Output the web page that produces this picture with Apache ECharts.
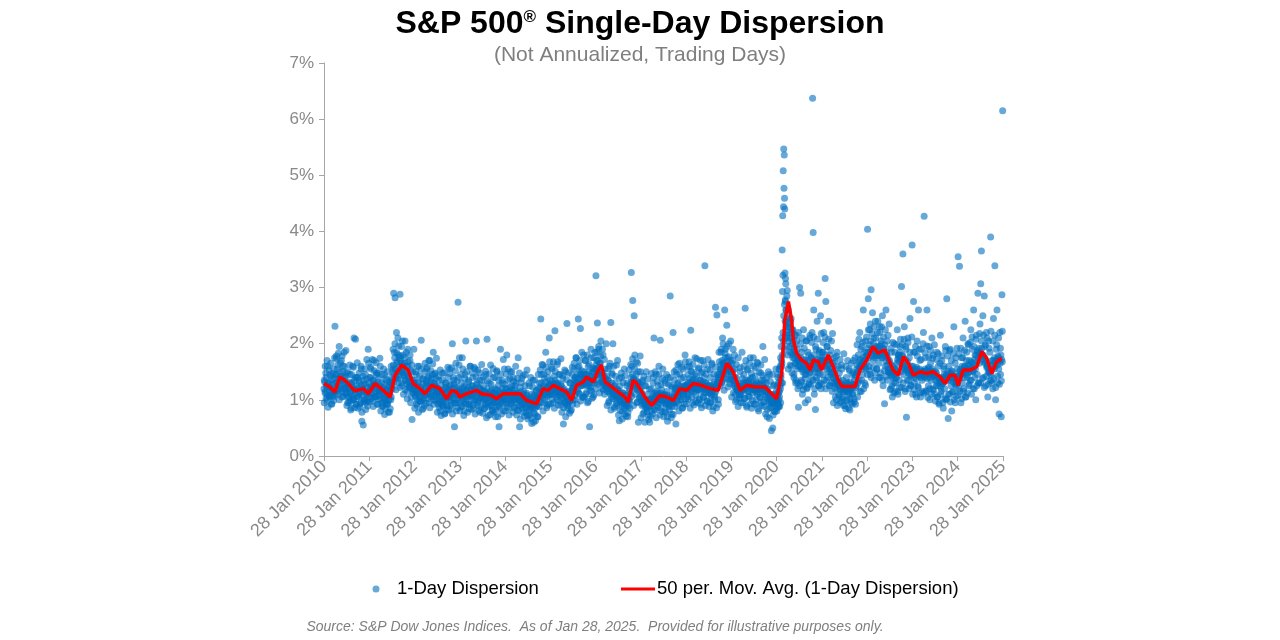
<!DOCTYPE html>
<html>
<head>
<meta charset="utf-8">
<script src="https://cdn.jsdelivr.net/npm/echarts@6/dist/echarts.min.js"></script>
<style>
  html, body { margin: 0; padding: 0; background: #fff; }
  #chart { width: 1280px; height: 640px; }
</style>
</head>
<body>
<div id="chart"></div>
<script>
const d2010 = [
  [1.35, 1.12, 1.48, 1.25, 0.98, 1.60, 1.30, 1.05, 1.22, 1.42, 0.92, 1.18, 1.08, 1.55, 1.15, 2.31],
  [1.45, 1.78, 1.32, 1.62, 1.10, 1.95, 1.40, 1.25, 1.70, 1.05, 1.50, 1.35, 1.85, 1.20, 1.42, 1.15],
  [1.30, 0.95, 1.22, 1.05, 1.45, 1.12, 0.85, 1.30, 1.60, 1.02, 2.10, 1.18, 2.08, 0.92, 1.25, 1.40],
  [1.08, 1.35, 0.88, 1.15, 1.55, 0.62, 1.20, 0.55, 1.28, 1.00, 1.45, 0.95, 1.72, 1.10, 1.90, 1.05]
]
const d2011 = [
  [1.40, 1.18, 1.55, 1.25, 0.98, 1.35, 1.70, 1.12, 1.28, 1.05, 1.48, 1.20, 0.92, 1.38, 1.15, 1.60],
  [1.10, 1.30, 0.90, 1.22, 1.02, 1.45, 0.85, 1.15, 1.35, 0.95, 1.08, 1.25, 0.78, 1.18, 1.00, 1.40],
  [1.20, 1.55, 2.90, 1.85, 2.82, 1.40, 2.20, 1.65, 2.10, 1.30, 1.75, 2.88, 1.50, 1.95, 1.25, 1.62],
  [1.80, 1.45, 2.05, 1.35, 1.60, 1.15, 1.90, 1.40, 1.25, 1.70, 0.95, 1.30, 0.65, 1.50, 1.18, 1.35]
]
const d2012 = [
  [1.25, 1.05, 1.45, 0.90, 1.32, 1.10, 1.60, 0.98, 1.20, 2.06, 1.02, 1.38, 0.85, 1.15, 1.50, 1.08],
  [1.30, 1.55, 1.12, 1.42, 0.95, 1.70, 1.25, 1.05, 1.38, 1.18, 1.85, 1.00, 1.28, 1.48, 1.10, 1.22],
  [1.15, 0.92, 1.35, 1.05, 0.80, 1.25, 0.98, 1.48, 0.88, 1.12, 0.75, 1.30, 1.02, 1.20, 0.90, 1.40],
  [1.18, 1.55, 1.00, 1.28, 0.85, 2.00, 1.10, 1.35, 0.52, 1.22, 1.65, 0.95, 1.08, 2.74, 1.40, 1.75]
]
const d2013 = [
  [1.10, 0.88, 1.30, 1.75, 1.00, 1.22, 0.80, 1.45, 2.05, 1.05, 1.15, 0.92, 1.35, 1.08, 1.60, 0.95],
  [1.25, 1.05, 1.40, 0.85, 1.18, 1.55, 1.00, 2.05, 1.30, 0.90, 1.12, 1.48, 0.78, 1.20, 1.05, 1.35],
  [1.02, 1.25, 0.85, 1.15, 1.45, 0.95, 2.08, 1.10, 0.72, 1.30, 1.05, 1.62, 0.90, 1.18, 0.82, 1.40],
  [0.95, 1.20, 0.70, 1.08, 1.50, 0.88, 1.25, 0.52, 1.12, 1.90, 0.98, 1.35, 1.05, 1.72, 0.92, 1.28]
]
const d2014 = [
  [1.20, 0.95, 1.80, 1.08, 1.35, 0.85, 1.15, 1.50, 0.98, 1.25, 1.05, 1.40, 0.88, 1.18, 1.02, 1.30],
  [1.12, 0.82, 1.75, 1.00, 0.52, 1.22, 0.90, 1.38, 1.05, 0.78, 1.15, 0.95, 1.45, 0.85, 1.08, 0.72],
  [1.00, 0.80, 1.25, 0.92, 0.68, 1.10, 0.85, 1.35, 0.60, 0.98, 0.75, 1.15, 0.88, 1.05, 0.70, 1.20],
  [1.30, 1.05, 2.44, 1.45, 1.15, 1.62, 0.95, 1.38, 1.10, 1.85, 1.22, 0.90, 1.50, 1.08, 2.10, 1.28]
]
const d2015 = [
  [1.35, 1.10, 1.55, 1.22, 0.95, 1.42, 2.23, 1.15, 1.30, 1.00, 1.68, 1.20, 1.08, 1.45, 0.90, 1.25],
  [1.12, 1.38, 0.57, 1.20, 0.95, 1.50, 1.05, 2.36, 0.85, 1.15, 0.98, 1.30, 0.80, 1.08, 1.45, 0.92],
  [1.20, 1.55, 1.00, 1.40, 1.75, 1.15, 1.30, 2.44, 1.60, 1.10, 2.27, 1.45, 1.85, 1.25, 1.05, 1.50],
  [1.35, 1.70, 1.10, 1.45, 0.95, 1.60, 1.25, 0.52, 1.38, 1.90, 1.15, 1.50, 1.05, 1.75, 1.30, 1.55]
]
const d2016 = [
  [3.21, 1.70, 2.37, 1.45, 1.90, 1.30, 1.65, 2.05, 1.50, 1.20, 1.80, 1.38, 1.10, 1.55, 1.25, 1.42],
  [1.15, 1.35, 0.95, 1.60, 1.20, 2.38, 1.05, 1.45, 2.00, 1.10, 0.85, 1.30, 1.00, 1.62, 0.90, 1.18],
  [1.05, 0.63, 1.25, 0.92, 1.40, 0.80, 1.12, 0.98, 1.55, 0.75, 1.08, 0.88, 1.30, 0.70, 1.00, 1.20],
  [0.85, 1.10, 3.27, 1.60, 2.77, 1.35, 2.50, 1.80, 1.20, 1.45, 0.95, 1.65, 0.60, 1.30, 1.05, 1.50]
]
const d2017 = [
  [1.15, 0.90, 1.35, 1.02, 0.78, 1.25, 0.95, 1.50, 0.85, 1.10, 0.72, 1.00, 0.60, 0.88, 1.20, 0.80],
  [0.95, 1.30, 2.10, 1.05, 0.82, 1.45, 1.12, 0.90, 1.25, 1.60, 1.00, 2.06, 0.85, 1.18, 1.38, 0.98],
  [1.08, 0.80, 1.30, 0.92, 1.15, 0.70, 1.40, 0.88, 1.02, 2.85, 1.25, 0.75, 1.10, 2.20, 0.95, 1.35],
  [1.20, 0.57, 1.45, 1.05, 1.30, 0.92, 1.65, 1.15, 1.00, 1.38, 0.85, 1.55, 1.10, 1.25, 1.80, 1.02]
]
const d2018 = [
  [1.25, 1.05, 1.45, 1.10, 1.60, 1.30, 2.24, 1.15, 1.50, 0.95, 1.38, 1.20, 1.75, 1.08, 1.42, 1.28],
  [1.18, 1.55, 1.02, 1.35, 0.92, 1.48, 1.22, 1.70, 1.05, 1.40, 3.39, 1.15, 1.30, 0.98, 1.55, 1.12],
  [1.25, 0.95, 1.40, 1.08, 1.65, 1.18, 0.88, 1.32, 1.05, 2.65, 1.20, 2.51, 1.45, 1.00, 1.85, 1.30],
  [1.55, 1.85, 1.30, 2.10, 1.65, 1.45, 2.60, 1.90, 1.40, 2.33, 1.75, 1.55, 2.00, 1.35, 1.70, 1.50]
]
const d2019 = [
  [1.65, 1.35, 1.90, 1.25, 1.55, 1.10, 1.40, 1.00, 1.22, 0.88, 1.30, 1.08, 1.50, 0.95, 1.15, 1.38],
  [1.20, 1.45, 1.02, 2.63, 1.30, 0.90, 1.55, 1.15, 1.35, 1.05, 1.75, 1.25, 0.85, 1.40, 1.12, 1.60],
  [1.18, 1.42, 0.92, 1.30, 1.10, 1.65, 0.80, 1.25, 1.05, 1.48, 0.95, 1.20, 1.95, 1.35, 0.88, 1.15],
  [1.05, 1.30, 0.70, 1.20, 0.95, 1.45, 0.85, 1.10, 0.45, 0.98, 0.50, 1.25, 0.80, 1.05, 0.90, 1.15]
]
const d2020 = [
  [1.05, 0.85, 1.25, 0.95, 1.40, 1.10, 0.90, 1.30, 1.00, 1.55, 1.15, 0.88, 1.35, 1.60, 1.20, 1.75, 1.45, 1.95, 1.30, 2.10, 1.65,
   3.67, 2.93, 4.28, 3.22, 5.08, 4.44, 5.47, 4.77, 5.36, 4.59, 4.40, 3.26, 2.78, 3.16, 3.07,
   2.40, 2.60, 2.20, 2.85, 1.95, 2.50, 1.80, 2.30],
  [2.60, 2.10, 2.45, 1.85, 2.40, 1.60, 2.20, 2.25, 1.75, 2.05, 1.45, 1.95, 1.65, 1.30, 2.15, 1.55, 1.90, 1.20, 0.87, 1.70],
  [3.00, 1.60, 2.90, 1.35, 1.85, 1.10, 1.55, 2.25, 1.25, 1.70, 0.95, 1.45, 2.05, 1.20, 1.60, 1.00, 1.80, 1.30, 2.10, 1.50],
  [1.75, 1.40, 2.20, 6.37, 3.98, 2.60, 1.10, 1.65, 0.83, 1.90, 1.35, 2.40, 1.55, 2.90, 1.25, 1.85, 1.45, 2.50, 1.20, 1.70]
]
const d2021 = [
  [1.85, 1.45, 2.20, 1.60, 3.16, 2.75, 1.35, 1.95, 1.70, 2.40, 1.25, 1.80, 1.50, 2.05, 1.15, 1.65],
  [1.40, 1.75, 1.20, 1.55, 1.00, 1.85, 1.30, 1.10, 1.48, 0.95, 1.25, 1.62, 1.05, 1.35, 0.90, 1.20],
  [1.15, 0.84, 1.40, 1.00, 1.30, 1.08, 1.55, 0.82, 1.22, 0.95, 1.45, 1.12, 1.70, 1.02, 1.28, 0.92],
  [1.25, 1.50, 1.05, 1.80, 1.35, 2.20, 1.60, 1.15, 1.95, 1.45, 2.60, 1.70, 1.30, 2.05, 1.55, 1.85]
]
const d2022 = [
  [4.04, 2.80, 1.60, 2.25, 1.45, 2.96, 1.90, 2.55, 1.70, 2.10, 1.35, 2.40, 1.80, 1.55, 2.20, 1.95],
  [1.65, 2.30, 1.40, 2.05, 1.75, 2.50, 1.25, 1.90, 0.93, 1.60, 2.60, 1.80, 1.35, 2.15, 1.50, 1.70],
  [1.45, 1.20, 1.85, 1.05, 1.60, 1.30, 2.00, 1.15, 1.55, 1.40, 2.25, 1.10, 1.75, 1.35, 1.95, 1.50],
  [3.02, 1.80, 3.60, 1.45, 2.30, 1.20, 1.95, 0.69, 1.55, 2.10, 1.35, 1.75, 2.45, 1.25, 1.60, 3.76]
]
const d2023 = [
  [1.60, 2.75, 1.30, 1.85, 1.10, 1.55, 2.05, 1.25, 2.60, 1.45, 1.70, 1.05, 1.90, 1.35, 1.50, 2.20],
  [4.27, 1.40, 1.75, 1.15, 2.60, 1.55, 1.25, 1.95, 1.00, 1.65, 1.35, 2.10, 1.20, 1.80, 1.45, 1.10],
  [1.50, 1.25, 1.85, 1.05, 1.60, 0.95, 1.40, 2.15, 1.15, 1.70, 1.30, 0.85, 1.55, 1.20, 1.95, 1.00],
  [2.80, 1.35, 0.67, 1.60, 1.10, 1.90, 1.25, 0.80, 1.50, 1.15, 2.30, 1.40, 0.95, 1.75, 1.30, 1.55]
]
const d2024 = [
  [3.55, 1.20, 3.38, 1.45, 0.95, 1.75, 1.30, 2.10, 1.15, 1.60, 2.40, 1.05, 1.85, 1.40, 2.00, 1.25],
  [1.70, 1.35, 2.25, 1.10, 1.90, 1.50, 2.60, 1.20, 1.80, 1.00, 2.15, 1.45, 2.90, 1.30, 1.65, 2.35],
  [3.07, 3.65, 1.80, 2.50, 1.40, 2.85, 1.95, 1.25, 2.20, 1.60, 1.05, 2.05, 1.50, 1.85, 3.90, 1.35],
  [1.70, 1.20, 2.45, 1.55, 3.39, 1.00, 1.90, 2.60, 1.30, 1.75, 0.75, 2.20, 1.45, 0.70, 2.87, 6.15]
]

// the dense core of the cloud, same quarters
const c2010 = [
  [1.20, 1.32, 1.15, 1.40, 1.25, 1.08, 1.30, 1.18, 1.45, 1.22, 1.10, 1.35, 1.28, 1.05, 1.38, 1.15],
  [1.30, 1.45, 1.25, 1.55, 1.38, 1.20, 1.50, 1.32, 1.42, 1.15, 1.35, 1.60, 1.28, 1.40, 1.22, 1.48],
  [1.10, 1.25, 1.05, 1.20, 1.32, 0.98, 1.15, 1.28, 1.08, 1.22, 1.00, 1.35, 1.12, 1.18, 1.40, 1.05],
  [1.20, 1.05, 1.30, 1.12, 0.95, 1.25, 1.08, 1.18, 1.35, 1.00, 1.15, 1.28, 1.10, 0.98, 1.22, 1.12]
]
const c2011 = [
  [1.30, 1.18, 1.40, 1.22, 1.10, 1.35, 1.25, 1.05, 1.28, 1.15, 1.45, 1.20, 1.32, 1.08, 1.25, 1.18],
  [1.15, 1.02, 1.20, 0.95, 1.12, 1.28, 1.05, 0.98, 1.18, 1.08, 0.92, 1.22, 1.00, 1.12, 1.30, 1.05],
  [1.35, 1.50, 1.62, 1.45, 1.75, 1.55, 1.40, 1.68, 1.50, 1.80, 1.58, 1.42, 1.70, 1.52, 1.65, 1.48],
  [1.55, 1.42, 1.65, 1.35, 1.50, 1.28, 1.45, 1.60, 1.32, 1.40, 1.25, 1.52, 1.20, 1.35, 1.15, 1.30]
]
const c2012 = [
  [1.20, 1.08, 1.25, 1.12, 1.00, 1.18, 1.30, 1.05, 1.15, 1.22, 0.98, 1.12, 1.28, 1.02, 1.18, 1.10],
  [1.25, 1.35, 1.15, 1.28, 1.40, 1.20, 1.10, 1.32, 1.22, 1.45, 1.18, 1.30, 1.08, 1.25, 1.38, 1.15],
  [1.12, 1.00, 1.20, 0.95, 1.08, 1.15, 0.92, 1.05, 1.18, 0.98, 1.10, 1.02, 1.22, 0.90, 1.12, 1.05],
  [1.18, 1.05, 1.25, 1.10, 0.98, 1.20, 1.12, 1.02, 1.28, 1.08, 0.95, 1.15, 1.22, 1.00, 1.12, 1.18]
]
const c2013 = [
  [1.05, 1.15, 0.98, 1.20, 1.08, 1.12, 0.95, 1.25, 1.10, 1.02, 1.18, 1.05, 1.22, 0.92, 1.12, 1.08],
  [1.18, 1.08, 1.25, 1.12, 1.00, 1.20, 1.15, 1.05, 1.28, 1.10, 0.98, 1.22, 1.12, 1.02, 1.18, 1.08],
  [1.10, 0.98, 1.15, 1.05, 0.92, 1.12, 1.02, 1.20, 0.95, 1.08, 1.00, 1.15, 0.90, 1.05, 1.12, 0.98],
  [1.02, 1.12, 0.95, 1.08, 1.18, 0.98, 1.05, 0.90, 1.15, 1.02, 1.10, 0.95, 1.20, 1.05, 1.12, 1.00]
]
const c2014 = [
  [1.12, 1.02, 1.20, 1.08, 0.98, 1.15, 1.05, 1.22, 1.10, 0.95, 1.18, 1.05, 1.12, 1.00, 1.25, 1.08],
  [1.05, 0.95, 1.12, 1.00, 0.90, 1.08, 1.15, 0.98, 1.02, 0.92, 1.10, 0.98, 1.05, 0.88, 1.12, 1.00],
  [0.98, 0.90, 1.02, 0.85, 0.95, 1.05, 0.88, 0.98, 0.92, 1.08, 0.85, 0.95, 1.00, 0.90, 1.05, 0.95],
  [1.10, 1.22, 1.05, 1.30, 1.15, 1.20, 1.08, 1.25, 1.12, 1.32, 1.18, 1.05, 1.22, 1.15, 1.28, 1.10]
]
const c2015 = [
  [1.25, 1.15, 1.32, 1.20, 1.10, 1.28, 1.18, 1.35, 1.22, 1.12, 1.30, 1.15, 1.25, 1.08, 1.20, 1.28],
  [1.10, 1.02, 1.18, 0.98, 1.08, 1.15, 0.95, 1.05, 1.12, 0.92, 1.02, 1.10, 0.98, 1.15, 1.05, 1.20],
  [1.22, 1.35, 1.28, 1.40, 1.25, 1.32, 1.45, 1.20, 1.38, 1.30, 1.48, 1.25, 1.35, 1.42, 1.28, 1.38],
  [1.40, 1.28, 1.45, 1.32, 1.25, 1.38, 1.50, 1.30, 1.35, 1.22, 1.42, 1.30, 1.48, 1.35, 1.55, 1.40]
]
const c2016 = [
  [1.55, 1.62, 1.48, 1.70, 1.58, 1.45, 1.65, 1.40, 1.52, 1.35, 1.48, 1.30, 1.42, 1.28, 1.38, 1.32],
  [1.28, 1.20, 1.35, 1.15, 1.25, 1.10, 1.22, 1.30, 1.18, 1.12, 1.25, 1.08, 1.20, 1.15, 1.05, 1.18],
  [1.10, 1.02, 1.15, 0.98, 1.08, 0.95, 1.05, 1.12, 0.92, 1.00, 1.08, 0.90, 1.02, 0.95, 0.88, 1.00],
  [1.15, 1.28, 1.40, 1.32, 1.45, 1.25, 1.38, 1.30, 1.22, 1.35, 1.28, 1.18, 1.32, 1.25, 1.15, 1.22]
]
const c2017 = [
  [1.05, 0.98, 1.10, 0.92, 1.02, 0.95, 0.88, 1.00, 0.92, 0.85, 0.95, 0.88, 1.00, 0.90, 0.95, 1.02],
  [1.00, 1.08, 0.95, 1.12, 1.05, 0.98, 1.15, 1.02, 1.08, 0.95, 1.10, 1.00, 1.12, 1.05, 0.98, 1.08],
  [1.05, 0.95, 1.10, 1.00, 0.92, 1.08, 0.98, 1.02, 0.90, 1.05, 0.95, 1.00, 0.88, 0.98, 1.05, 0.95],
  [1.12, 1.22, 1.08, 1.18, 1.28, 1.15, 1.05, 1.20, 1.25, 1.12, 1.18, 1.10, 1.22, 1.15, 1.25, 1.18]
]
const c2018 = [
  [1.20, 1.28, 1.15, 1.32, 1.22, 1.38, 1.25, 1.18, 1.30, 1.35, 1.22, 1.28, 1.15, 1.32, 1.25, 1.20],
  [1.25, 1.18, 1.30, 1.22, 1.35, 1.15, 1.28, 1.20, 1.32, 1.25, 1.12, 1.22, 1.30, 1.18, 1.25, 1.20],
  [1.20, 1.12, 1.25, 1.15, 1.08, 1.22, 1.18, 1.28, 1.10, 1.20, 1.15, 1.25, 1.30, 1.35, 1.40, 1.45],
  [1.50, 1.62, 1.55, 1.70, 1.48, 1.65, 1.58, 1.75, 1.52, 1.60, 1.68, 1.55, 1.62, 1.50, 1.58, 1.45]
]
const c2019 = [
  [1.45, 1.38, 1.52, 1.35, 1.28, 1.40, 1.22, 1.30, 1.18, 1.25, 1.15, 1.22, 1.10, 1.20, 1.25, 1.18],
  [1.22, 1.30, 1.18, 1.28, 1.35, 1.20, 1.25, 1.32, 1.15, 1.28, 1.22, 1.38, 1.25, 1.18, 1.30, 1.22],
  [1.20, 1.28, 1.15, 1.25, 1.32, 1.18, 1.22, 1.12, 1.28, 1.20, 1.35, 1.15, 1.25, 1.18, 1.30, 1.22],
  [1.15, 1.08, 1.20, 1.02, 1.12, 0.98, 1.10, 1.05, 0.95, 1.08, 0.92, 1.02, 1.10, 0.95, 1.05, 1.00]
]
const c2020 = [
  [1.00, 1.10, 0.95, 1.15, 1.05, 1.25, 1.40, 1.60, 1.80, 2.20, 2.50, 2.70, 2.40, 2.60, 2.30, 2.15],
  [2.30, 2.05, 2.20, 1.95, 2.10, 1.85, 2.00, 1.80, 1.90, 1.75, 1.85, 1.65, 1.80, 1.70, 1.60, 1.75],
  [1.70, 1.60, 1.75, 1.55, 1.68, 1.50, 1.62, 1.72, 1.45, 1.58, 1.65, 1.52, 1.70, 1.55, 1.48, 1.62],
  [1.60, 1.75, 1.55, 1.70, 1.62, 1.80, 1.50, 1.68, 1.58, 1.72, 1.48, 1.65, 1.55, 1.75, 1.60, 1.70]
]
const c2021 = [
  [1.75, 1.65, 1.85, 1.70, 1.60, 1.80, 1.68, 1.55, 1.72, 1.62, 1.50, 1.65, 1.55, 1.45, 1.58, 1.48],
  [1.40, 1.32, 1.45, 1.28, 1.35, 1.22, 1.30, 1.38, 1.25, 1.20, 1.32, 1.18, 1.28, 1.22, 1.15, 1.25],
  [1.25, 1.18, 1.30, 1.15, 1.22, 1.28, 1.12, 1.20, 1.32, 1.18, 1.25, 1.10, 1.22, 1.28, 1.35, 1.42],
  [1.45, 1.55, 1.62, 1.50, 1.68, 1.58, 1.72, 1.60, 1.65, 1.55, 1.75, 1.62, 1.70, 1.58, 1.78, 1.65]
]
const c2022 = [
  [1.80, 1.92, 1.75, 1.98, 1.85, 2.05, 1.78, 1.90, 1.82, 2.00, 1.88, 1.75, 1.95, 1.85, 1.78, 1.92],
  [1.88, 1.78, 1.95, 1.82, 2.00, 1.85, 1.75, 1.92, 1.80, 1.98, 1.70, 1.85, 1.62, 1.75, 1.55, 1.68],
  [1.55, 1.48, 1.62, 1.42, 1.50, 1.38, 1.45, 1.55, 1.40, 1.52, 1.65, 1.72, 1.80, 1.68, 1.85, 1.75],
  [1.70, 1.62, 1.78, 1.58, 1.65, 1.55, 1.72, 1.60, 1.52, 1.68, 1.48, 1.58, 1.45, 1.55, 1.42, 1.50]
]
const c2023 = [
  [1.45, 1.52, 1.40, 1.55, 1.48, 1.38, 1.58, 1.45, 1.50, 1.42, 1.55, 1.48, 1.40, 1.52, 1.45, 1.50],
  [1.50, 1.42, 1.55, 1.45, 1.52, 1.38, 1.48, 1.58, 1.45, 1.40, 1.52, 1.48, 1.55, 1.42, 1.50, 1.45],
  [1.42, 1.35, 1.48, 1.30, 1.40, 1.25, 1.38, 1.32, 1.22, 1.35, 1.28, 1.40, 1.32, 1.45, 1.38, 1.42],
  [1.45, 1.38, 1.50, 1.42, 1.35, 1.48, 1.40, 1.52, 1.45, 1.38, 1.32, 1.42, 1.28, 1.35, 1.25, 1.32]
]
const c2024 = [
  [1.30, 1.42, 1.50, 1.38, 1.55, 1.45, 1.60, 1.48, 1.52, 1.40, 1.58, 1.50, 1.45, 1.55, 1.62, 1.48],
  [1.55, 1.62, 1.50, 1.68, 1.58, 1.65, 1.52, 1.60, 1.72, 1.55, 1.80, 1.68, 1.85, 1.75, 1.92, 1.82],
  [1.85, 1.78, 1.92, 1.72, 1.80, 1.68, 1.75, 1.65, 1.70, 1.58, 1.62, 1.50, 1.55, 1.48, 1.52, 1.45],
  [1.55, 1.62, 1.70, 1.65, 1.75, 1.60, 1.68, 1.72, 1.62, 1.78, 1.55, 1.70, 1.65, 1.80, 1.72, 1.68]
]

// the shoulders of the band, either side of the core
const m2010 = [
  [0.95, 1.60, 1.03, 1.70, 0.87, 1.53, 1.07, 1.65, 0.93, 1.47, 0.99, 1.75],
  [1.08, 1.73, 1.16, 1.83, 1.00, 1.66, 1.20, 1.78, 1.06, 1.60, 1.12, 1.88],
  [0.90, 1.50, 0.95, 1.62, 0.82, 1.45, 1.00, 1.58, 0.86, 1.40, 0.92, 1.66],
  [0.85, 1.48, 0.93, 1.60, 0.78, 1.42, 0.97, 1.55, 0.83, 1.37, 0.89, 1.65]
]
const m2011 = [
  [0.97, 1.58, 1.02, 1.72, 0.88, 1.52, 1.06, 1.66, 0.92, 1.48, 1.00, 1.74],
  [0.80, 1.45, 0.88, 1.55, 0.74, 1.38, 0.92, 1.50, 0.78, 1.32, 0.84, 1.60],
  [1.25, 1.90, 1.32, 2.00, 1.18, 1.84, 1.38, 1.96, 1.22, 1.78, 1.30, 2.05],
  [1.10, 1.75, 1.18, 1.85, 1.02, 1.68, 1.22, 1.80, 1.05, 1.62, 1.12, 1.90]
]
const m2012 = [
  [0.85, 1.50, 0.93, 1.60, 0.78, 1.43, 0.97, 1.55, 0.83, 1.37, 0.90, 1.65],
  [0.94, 1.58, 1.02, 1.70, 0.86, 1.52, 1.06, 1.64, 0.92, 1.46, 0.98, 1.74],
  [0.78, 1.42, 0.86, 1.53, 0.72, 1.36, 0.90, 1.48, 0.76, 1.30, 0.82, 1.58],
  [0.82, 1.47, 0.90, 1.57, 0.75, 1.40, 0.94, 1.52, 0.80, 1.34, 0.86, 1.62]
]
const m2013 = [
  [0.80, 1.45, 0.88, 1.55, 0.72, 1.38, 0.92, 1.50, 0.78, 1.32, 0.84, 1.60],
  [0.83, 1.48, 0.91, 1.58, 0.75, 1.41, 0.95, 1.53, 0.81, 1.35, 0.87, 1.63],
  [0.76, 1.41, 0.84, 1.51, 0.68, 1.34, 0.88, 1.46, 0.74, 1.28, 0.80, 1.56],
  [0.78, 1.40, 0.82, 1.52, 0.70, 1.35, 0.86, 1.45, 0.75, 1.30, 0.80, 1.55]
]
const m2014 = [
  [0.80, 1.46, 0.87, 1.55, 0.73, 1.38, 0.93, 1.50, 0.78, 1.33, 0.85, 1.60],
  [0.73, 1.38, 0.81, 1.48, 0.66, 1.31, 0.85, 1.43, 0.71, 1.25, 0.77, 1.53],
  [0.66, 1.30, 0.73, 1.40, 0.58, 1.23, 0.77, 1.35, 0.63, 1.17, 0.70, 1.45],
  [0.88, 1.53, 0.96, 1.63, 0.80, 1.46, 1.00, 1.58, 0.86, 1.40, 0.92, 1.68]
]
const m2015 = [
  [0.93, 1.58, 1.01, 1.68, 0.85, 1.51, 1.05, 1.63, 0.91, 1.45, 0.97, 1.73],
  [0.78, 1.43, 0.86, 1.53, 0.70, 1.36, 0.90, 1.48, 0.76, 1.30, 0.82, 1.58],
  [1.00, 1.65, 1.08, 1.75, 0.92, 1.58, 1.12, 1.70, 0.98, 1.52, 1.04, 1.80],
  [1.05, 1.70, 1.13, 1.80, 0.97, 1.63, 1.17, 1.75, 1.03, 1.57, 1.09, 1.85]
]
const m2016 = [
  [1.20, 1.85, 1.28, 1.95, 1.12, 1.78, 1.32, 1.90, 1.18, 1.72, 1.24, 2.00],
  [0.90, 1.55, 0.98, 1.65, 0.82, 1.48, 1.02, 1.60, 0.88, 1.42, 0.94, 1.70],
  [0.73, 1.38, 0.81, 1.48, 0.66, 1.31, 0.85, 1.43, 0.71, 1.25, 0.77, 1.53],
  [0.98, 1.63, 1.06, 1.73, 0.90, 1.56, 1.10, 1.68, 0.96, 1.50, 1.02, 1.78]
]
const m2017 = [
  [0.68, 1.32, 0.75, 1.42, 0.60, 1.25, 0.79, 1.37, 0.65, 1.19, 0.71, 1.47],
  [0.75, 1.40, 0.83, 1.50, 0.68, 1.33, 0.87, 1.45, 0.73, 1.27, 0.79, 1.55],
  [0.70, 1.35, 0.78, 1.45, 0.62, 1.28, 0.82, 1.40, 0.68, 1.22, 0.74, 1.50],
  [0.88, 1.53, 0.96, 1.63, 0.80, 1.46, 1.00, 1.58, 0.86, 1.40, 0.92, 1.68]
]
const m2018 = [
  [0.93, 1.58, 1.01, 1.68, 0.85, 1.51, 1.05, 1.63, 0.91, 1.45, 0.97, 1.73],
  [0.95, 1.57, 1.00, 1.70, 0.86, 1.50, 1.04, 1.62, 0.90, 1.46, 0.98, 1.72],
  [0.88, 1.53, 0.96, 1.63, 0.80, 1.46, 1.00, 1.58, 0.86, 1.40, 0.92, 1.68],
  [1.25, 1.90, 1.33, 2.00, 1.17, 1.83, 1.37, 1.95, 1.23, 1.77, 1.29, 2.05]
]
const m2019 = [
  [1.05, 1.70, 1.13, 1.80, 0.97, 1.63, 1.17, 1.75, 1.03, 1.57, 1.09, 1.85],
  [0.95, 1.60, 1.03, 1.70, 0.87, 1.53, 1.07, 1.65, 0.93, 1.47, 0.99, 1.75],
  [0.92, 1.57, 1.00, 1.67, 0.84, 1.50, 1.04, 1.62, 0.90, 1.44, 0.96, 1.72],
  [0.75, 1.40, 0.83, 1.50, 0.67, 1.33, 0.87, 1.45, 0.73, 1.27, 0.79, 1.55]
]
const m2020 = [
  [0.80, 1.45, 0.88, 1.55, 0.95, 1.70, 1.30, 2.05, 1.90, 2.75, 2.10, 2.95],
  [1.55, 2.35, 1.62, 2.45, 1.48, 2.25, 1.40, 2.15, 1.35, 2.05, 1.30, 2.20],
  [1.25, 2.00, 1.32, 2.10, 1.18, 1.92, 1.38, 2.05, 1.22, 1.85, 1.28, 2.15],
  [1.28, 2.02, 1.35, 2.12, 1.20, 1.95, 1.40, 2.08, 1.25, 1.88, 1.30, 2.18]
]
const m2021 = [
  [1.28, 2.02, 1.35, 2.12, 1.20, 1.95, 1.40, 2.08, 1.25, 1.88, 1.30, 2.18],
  [0.95, 1.68, 1.05, 1.78, 0.90, 1.60, 1.08, 1.72, 0.98, 1.55, 1.02, 1.82],
  [0.90, 1.60, 0.98, 1.70, 0.85, 1.52, 1.02, 1.65, 0.92, 1.48, 0.96, 1.75],
  [1.22, 1.98, 1.30, 2.08, 1.15, 1.90, 1.35, 2.02, 1.20, 1.85, 1.26, 2.12]
]
const m2022 = [
  [1.45, 2.25, 1.52, 2.35, 1.40, 2.18, 1.58, 2.30, 1.48, 2.10, 1.55, 2.40],
  [1.40, 2.20, 1.48, 2.30, 1.35, 2.12, 1.52, 2.25, 1.42, 2.05, 1.50, 2.35],
  [1.18, 1.92, 1.25, 2.02, 1.12, 1.85, 1.30, 1.98, 1.15, 1.80, 1.22, 2.08],
  [1.22, 1.98, 1.30, 2.08, 1.15, 1.90, 1.35, 2.02, 1.20, 1.85, 1.26, 2.12]
]
const m2023 = [
  [1.10, 1.85, 1.18, 1.95, 1.05, 1.78, 1.22, 1.90, 1.12, 1.72, 1.15, 2.00],
  [1.12, 1.84, 1.16, 1.96, 1.04, 1.76, 1.20, 1.88, 1.10, 1.74, 1.18, 1.98],
  [0.98, 1.72, 1.05, 1.82, 0.92, 1.65, 1.10, 1.78, 0.95, 1.60, 1.02, 1.88],
  [1.02, 1.78, 1.10, 1.88, 0.96, 1.70, 1.14, 1.82, 1.00, 1.65, 1.06, 1.92]
]
const m2024 = [
  [1.08, 1.82, 1.15, 1.92, 1.02, 1.75, 1.20, 1.88, 1.05, 1.70, 1.12, 1.98],
  [1.28, 2.02, 1.35, 2.12, 1.20, 1.95, 1.40, 2.08, 1.25, 1.88, 1.30, 2.18],
  [1.30, 2.05, 1.38, 2.15, 1.22, 1.98, 1.42, 2.10, 1.28, 1.92, 1.34, 2.22],
  [1.30, 2.05, 1.38, 2.15, 1.22, 1.98, 1.42, 2.10, 1.28, 1.92, 1.34, 2.22]
]

const years = [2010, 2011, 2012, 2013, 2014, 2015, 2016, 2017, 2018, 2019, 2020, 2021, 2022, 2023, 2024]
const spread = [d2010, d2011, d2012, d2013, d2014, d2015, d2016, d2017, d2018, d2019, d2020, d2021, d2022, d2023, d2024]
const core = [c2010, c2011, c2012, c2013, c2014, c2015, c2016, c2017, c2018, c2019, c2020, c2021, c2022, c2023, c2024]
const shoulder = [m2010, m2011, m2012, m2013, m2014, m2015, m2016, m2017, m2018, m2019, m2020, m2021, m2022, m2023, m2024]

// 50 per. moving average (%)
const maDates = [
  2010.00, 2010.13, 2010.24, 2010.35, 2010.50, 2010.68, 2010.87, 2010.98,
  2011.13, 2011.31, 2011.46, 2011.57, 2011.72, 2011.86, 2011.97,
  2012.12, 2012.23, 2012.38, 2012.56, 2012.71, 2012.82, 2012.93,
  2013.00, 2013.15, 2013.37, 2013.48, 2013.70, 2013.81, 2013.96,
  2014.18, 2014.33, 2014.48, 2014.70, 2014.84, 2014.95,
  2015.07, 2015.21, 2015.36, 2015.47, 2015.58, 2015.73, 2015.80, 2015.95,
  2016.06, 2016.13, 2016.21, 2016.36, 2016.50, 2016.65, 2016.72, 2016.83, 2016.91, 2016.98,
  2017.09, 2017.24, 2017.42, 2017.57, 2017.72, 2017.86,
  2018.01, 2018.16, 2018.34, 2018.53, 2018.71, 2018.90,
  2019.04, 2019.19, 2019.34, 2019.52, 2019.74, 2019.89,
  2020.00, 2020.11, 2020.18, 2020.26, 2020.29, 2020.33, 2020.37, 2020.44, 2020.55, 2020.66, 2020.74, 2020.81, 2020.92, 2020.99,
  2021.14, 2021.25, 2021.36, 2021.44, 2021.73, 2021.84, 2021.99,
  2022.13, 2022.24, 2022.39, 2022.57, 2022.69, 2022.80, 2022.91,
  2023.02, 2023.17, 2023.31, 2023.46, 2023.61, 2023.72, 2023.83, 2023.94,
  2024.01, 2024.12, 2024.27, 2024.42, 2024.53, 2024.64, 2024.75, 2024.86, 2024.97
]
const maValues = [
  1.29, 1.23, 1.14, 1.41, 1.32, 1.16, 1.20, 1.11,
  1.29, 1.17, 1.05, 1.44, 1.62, 1.53, 1.29,
  1.20, 1.11, 1.26, 1.20, 1.02, 1.17, 1.14,
  1.05, 1.11, 1.17, 1.11, 1.08, 1.02, 1.11,
  1.11, 1.11, 0.99, 0.93, 1.20, 1.17,
  1.26, 1.20, 1.14, 0.99, 1.26, 1.32, 1.41, 1.32,
  1.53, 1.62, 1.32, 1.23, 1.14, 1.05, 0.96, 1.35, 1.29, 1.20,
  1.05, 0.90, 1.08, 1.05, 0.99, 1.20,
  1.17, 1.29, 1.26, 1.20, 1.17, 1.65,
  1.50, 1.17, 1.26, 1.23, 1.23, 1.11,
  1.02, 1.47, 2.42, 2.75, 2.77, 2.42, 2.06, 1.83, 1.71, 1.65, 1.53, 1.71, 1.68, 1.53,
  1.80, 1.59, 1.35, 1.24, 1.24, 1.53, 1.71,
  1.95, 1.83, 1.89, 1.53, 1.44, 1.77, 1.65,
  1.44, 1.50, 1.47, 1.50, 1.41, 1.29, 1.44, 1.44,
  1.26, 1.53, 1.53, 1.59, 1.86, 1.74, 1.47, 1.68, 1.74
]

const font = 'Liberation Sans, Arial, sans-serif'
const grey = '#898989'

// each layer sits at its own offset inside a quarter's slots, so they interleave
const points = []
const addYear = (year, qs, offset) => {
  qs.forEach((arr, q) => {
    arr.forEach((v, i) => {
      points.push([year + (q + (i + offset) / arr.length) / 4, v])
    })
  })
}
years.forEach((y, k) => {
  addYear(y, core[k], 0)
  addYear(y, shoulder[k], 0.25)
  addYear(y, spread[k], 0.5)
})
const maLine = maDates.map((d, i) => [d, maValues[i]])

const chart = echarts.init(document.getElementById('chart'))
chart.setOption({
  animation: false,
  backgroundColor: '#fff',
  title: {
    text: 'S&P 500{r|®} Single-Day Dispersion',
    subtext: '(Not Annualized, Trading Days)',
    left: 'center',
    top: 3,
    itemGap: 5,
    textStyle: {
      fontFamily: font,
      fontSize: 32,
      fontWeight: 'bold',
      color: '#000',
      rich: {
        r: { fontFamily: font, fontSize: 17, fontWeight: 'bold', color: '#000', padding: [0, 0, 13, 0] }
      }
    },
    subtextStyle: { fontFamily: font, fontSize: 21, color: '#7f7f7f' }
  },
  grid: { left: 324, right: 277, top: 63, bottom: 184 },
  xAxis: {
    type: 'value',
    min: 2010,
    max: 2025,
    interval: 1,
    axisLine: { show: true, lineStyle: { color: '#a6a6a6', width: 1 } },
    axisTick: { show: true, length: 5, lineStyle: { color: '#a6a6a6' } },
    splitLine: { show: false },
    axisLabel: {
      rotate: 45,
      margin: 8,
      fontFamily: font,
      fontSize: 18,
      color: grey,
      formatter: v => '28 Jan ' + v
    }
  },
  yAxis: {
    type: 'value',
    min: 0,
    max: 7,
    interval: 1,
    axisLine: { show: true, lineStyle: { color: '#a6a6a6', width: 1 } },
    axisTick: { show: true, length: 5, lineStyle: { color: '#a6a6a6' } },
    splitLine: { show: false },
    axisLabel: { margin: 10, fontFamily: font, fontSize: 17, color: grey, formatter: '{value}%' }
  },
  series: [
    {
      name: '1-Day Dispersion',
      type: 'scatter',
      data: points,
      symbolSize: 7,
      itemStyle: { color: '#0070C0', opacity: 0.6 }
    },
    {
      name: '50 per. Mov. Avg. (1-Day Dispersion)',
      type: 'line',
      data: maLine,
      showSymbol: false,
      z: 3,
      lineStyle: { color: '#FF0000', width: 3.5 }
    }
  ],
  graphic: [
    { type: 'circle', shape: { cx: 376, cy: 589, r: 3.5 }, style: { fill: '#0070C0', opacity: 0.6 } },
    { type: 'text', x: 397, y: 589, style: { text: '1-Day Dispersion', font: '18.5px ' + font, fill: '#000', verticalAlign: 'middle' } },
    { type: 'line', shape: { x1: 621, y1: 589, x2: 655, y2: 589 }, style: { stroke: '#FF0000', lineWidth: 3 } },
    { type: 'text', x: 657, y: 589, style: { text: '50 per. Mov. Avg. (1-Day Dispersion)', font: '18.5px ' + font, fill: '#000', verticalAlign: 'middle' } },
    { type: 'text', x: 595, y: 627, style: { text: 'Source: S&P Dow Jones Indices.  As of Jan 28, 2025.  Provided for illustrative purposes only.', font: 'italic 14px ' + font, fill: '#7f7f7f', align: 'center', verticalAlign: 'middle' } }
  ]
})
</script>
</body>
</html>
